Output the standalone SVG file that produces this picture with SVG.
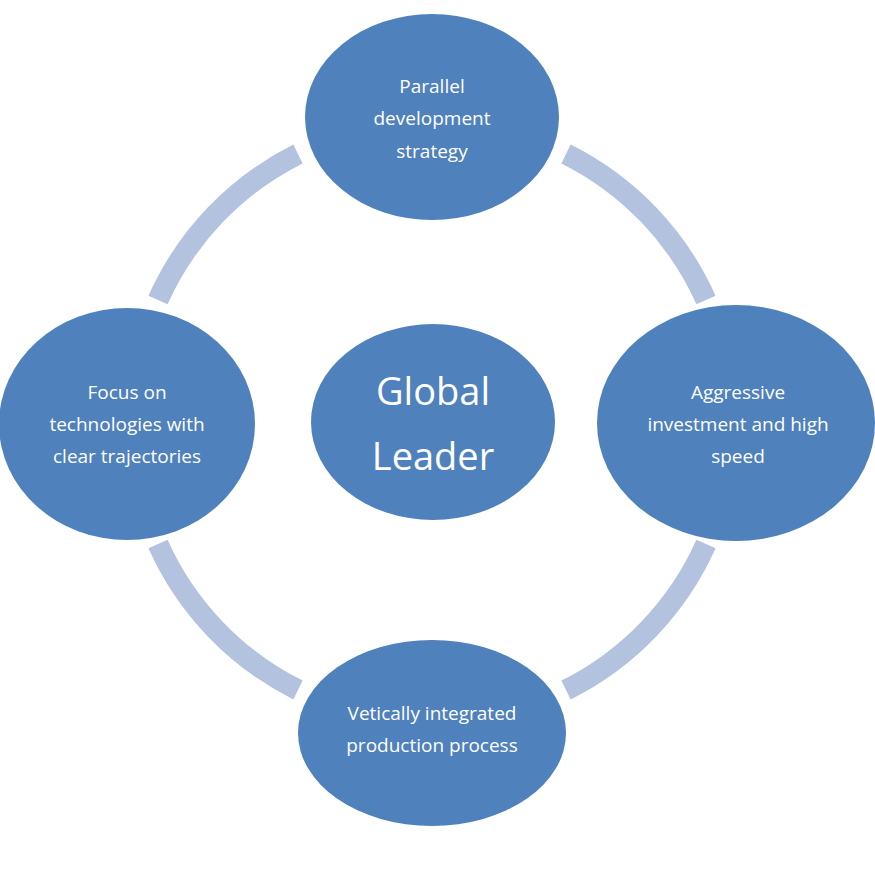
<svg xmlns="http://www.w3.org/2000/svg" width="875" height="896" viewBox="0 0 875 896">
<style>
.n{fill:#4F81BD}
.c{fill:none;stroke:#B3C2DE;stroke-width:21}
.t{font-family:"Open Sans","Noto Sans",sans-serif;font-size:19px;fill:#fff;text-anchor:middle}
.b{font-size:38px}
</style>
<rect width="875" height="896" fill="#fff"/>
<g id="connectors">
<path class="c" d="M566,154 A300,300 0 0 1 706,300"/>
<path class="c" d="M706,544 A300,300 0 0 1 566,690"/>
<path class="c" d="M298,690 A300,300 0 0 1 158,544"/>
<path class="c" d="M158,300 A300,300 0 0 1 298,154"/>
</g>
<g id="top"><ellipse class="n" cx="432" cy="117" rx="127" ry="103"/>
<text class="t" x="432" y="93">Parallel</text><text class="t" x="432" y="125">development</text><text class="t" x="432" y="158">strategy</text></g>
<g id="right"><ellipse class="n" cx="736" cy="423" rx="139" ry="118"/>
<text class="t" x="738" y="399">Aggressive</text><text class="t" x="738" y="431">investment and high</text><text class="t" x="738" y="463">speed</text></g>
<g id="left"><ellipse class="n" cx="127" cy="424" rx="128" ry="116"/>
<text class="t" x="127" y="399">Focus on</text><text class="t" x="127" y="431">technologies with</text><text class="t" x="127" y="463">clear trajectories</text></g>
<g id="bottom"><ellipse class="n" cx="432" cy="733" rx="134" ry="93"/>
<text class="t" x="432" y="720">Vetically integrated</text><text class="t" x="432" y="752">production process</text></g>
<g id="center"><ellipse class="n" cx="433" cy="422" rx="122" ry="98"/>
<text class="t b" x="433" y="405">Global</text><text class="t b" x="433" y="470">Leader</text></g>
</svg>
